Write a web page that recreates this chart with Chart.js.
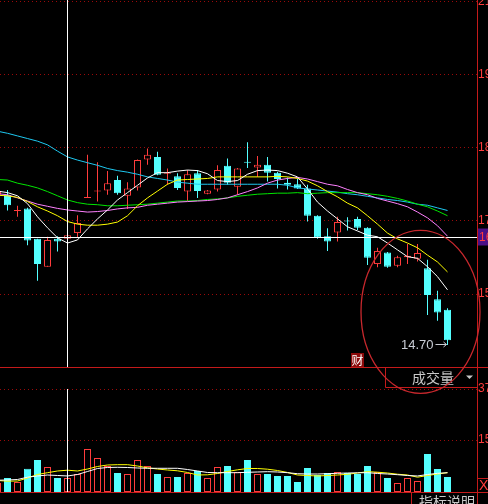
<!DOCTYPE html>
<html>
<head>
<meta charset="utf-8">
<script src="https://cdn.jsdelivr.net/npm/chart.js@4.4.1/dist/chart.umd.min.js"></script>
<style>
  html, body { margin: 0; padding: 0; background: #000; overflow: hidden; }
  #wrap { width: 540px; height: 504px; }
</style>
</head>
<body>
<div id="wrap"><canvas id="kline" width="540" height="504"></canvas></div>
<script>
// trading days, the first one is cut by the left edge
const days = [-1,0,1,2,3,4,5,6,7,8,9,10,11,12,13,14,15,16,17,18,19,20,21,22,23,24,25,26,27,28,29,30,31,32,33,34,35,36,37,38,39,40,41,42,43,44];

const open  = [17.56,17.56,17.25,17.30,16.72,16.19,16.72,16.72,16.83,17.50,17.62,17.64,17.84,17.54,17.70,18.23,18.28,17.96,17.91,17.62,17.97,17.58,17.66,18.11,17.71,18.18,18.08,18.13,17.98,17.79,17.76,17.68,17.16,16.77,16.84,17.06,17.10,16.93,16.24,16.46,16.21,16.37,16.34,16.16,15.57,15.37];
const high  = [17.66,17.65,17.35,17.31,16.72,16.76,16.77,16.81,17.17,18.32,18.18,18.01,17.92,17.80,18.23,18.44,18.38,18.06,17.97,18.03,18.03,17.65,18.12,18.25,18.07,18.56,18.30,18.28,18.00,17.89,17.87,17.75,17.17,16.92,17.14,17.13,17.14,16.94,16.55,16.47,16.40,16.62,16.62,16.32,15.73,15.40];
const low   = [17.53,17.26,17.14,16.60,15.92,16.19,16.48,16.70,16.75,17.50,17.43,17.56,17.56,17.29,17.64,18.13,17.93,17.75,17.65,17.44,17.50,17.57,17.62,17.75,17.56,18.07,17.90,17.81,17.68,17.66,17.67,17.05,16.72,16.49,16.67,16.88,16.89,16.22,16.18,16.17,16.18,16.24,16.29,15.27,15.16,14.70];
const close = [17.63,17.36,17.27,16.69,16.24,16.70,16.67,16.79,17.02,17.51,17.63,17.78,17.59,17.68,18.22,18.32,17.94,17.97,17.69,17.95,17.63,17.64,18.03,17.79,18.06,18.17,18.13,17.98,17.86,17.75,17.68,17.16,16.75,16.67,17.04,17.05,16.93,16.36,16.49,16.19,16.37,16.40,16.45,15.65,15.32,14.79];

// moving averages as drawn on the price panel
const ma5  = [17.63,17.60,17.54,17.39,17.14,16.93,16.74,16.64,16.70,16.91,17.10,17.27,17.46,17.60,17.74,17.88,17.98,17.98,18.01,18.03,18.02,17.96,17.83,17.81,17.83,17.95,18.02,18.03,18.02,17.97,17.90,17.67,17.42,17.25,17.10,16.95,16.87,16.79,16.76,16.64,16.51,16.38,16.35,16.19,16.00,15.75];
const ma10 = [17.55,17.54,17.51,17.43,17.33,17.25,17.16,17.05,17.00,16.98,16.98,17.00,17.04,17.16,17.35,17.50,17.63,17.76,17.84,17.85,17.86,17.87,17.90,17.90,17.90,17.90,17.90,17.90,17.91,17.90,17.87,17.82,17.73,17.62,17.52,17.40,17.31,17.16,17.00,16.83,16.72,16.64,16.55,16.41,16.28,16.09];
const ma20 = [17.58,17.56,17.50,17.44,17.38,17.34,17.30,17.27,17.25,17.23,17.24,17.26,17.29,17.31,17.32,17.36,17.38,17.40,17.42,17.43,17.44,17.45,17.47,17.50,17.56,17.62,17.69,17.78,17.84,17.87,17.89,17.86,17.81,17.76,17.73,17.66,17.60,17.56,17.49,17.44,17.39,17.33,17.23,17.12,16.97,16.77];
const ma30 = [17.85,17.84,17.78,17.74,17.69,17.62,17.54,17.46,17.41,17.38,17.37,17.35,17.35,17.36,17.37,17.38,17.40,17.42,17.44,17.44,17.45,17.47,17.48,17.50,17.53,17.55,17.57,17.58,17.59,17.59,17.60,17.58,17.59,17.60,17.60,17.60,17.60,17.58,17.56,17.53,17.49,17.44,17.38,17.33,17.25,17.16];
const ma60 = [18.77,18.73,18.68,18.63,18.58,18.51,18.39,18.28,18.22,18.17,18.12,18.06,18.02,17.99,17.95,17.90,17.87,17.84,17.80,17.78,17.76,17.76,17.76,17.76,17.76,17.76,17.76,17.76,17.76,17.74,17.69,17.67,17.65,17.63,17.61,17.58,17.56,17.53,17.50,17.47,17.45,17.42,17.38,17.36,17.31,17.26];

// volume (万手) and its two averages
const volume = [2.68,4.04,2.88,6.72,9.23,7.21,4.04,4.04,5.19,12.40,9.81,7.50,5.48,5.19,9.23,7.50,5.19,4.33,4.33,5.48,6.06,4.04,7.21,7.50,5.77,9.23,5.19,5.19,4.62,4.62,2.88,6.92,4.90,5.48,5.77,5.48,5.19,7.50,5.77,4.04,2.60,4.04,3.17,10.96,6.63,4.33];
const vol5  = [3.40,3.46,3.61,4.27,4.62,4.90,4.76,4.62,5.05,5.91,6.78,7.07,7.13,7.07,6.92,6.84,6.84,6.84,6.84,6.49,6.06,5.63,5.57,5.57,5.57,5.68,5.77,5.86,5.77,5.57,5.28,5.19,5.19,5.28,5.39,5.48,5.54,5.57,5.34,5.19,4.99,4.76,4.62,5.05,5.39,5.57];
const vol10 = [3.32,3.12,3.17,4.04,5.05,5.57,6.06,6.29,6.06,6.63,7.36,7.79,7.88,7.88,7.50,6.98,6.63,6.35,6.12,5.63,4.90,4.96,5.34,5.91,6.40,6.78,6.78,6.58,6.20,5.63,4.90,4.76,4.62,4.76,4.90,5.11,5.48,5.86,5.71,5.48,5.13,4.90,4.27,4.76,5.19,5.57];

// axis ticks
const priceGrid = [15.67, 17.06, 18.45, 19.84, 21.23];
const priceGridLabels = ['15.67', '17.06', '18.45', '19.84', '21.23'];
const volGrid = [15.0, 29.7];
const volGridLabels = ['15', '37'];

// cursor and markers
const crossDay = 6, crossPrice = 16.75, crossLabel = '16.75';
const lowDay = 44, lowPrice = 14.70, lowLabel = '14.70';

const RED = '#ff3c3c', CYAN = '#54ffff', GRID = '#9a0a0a', FRAME = '#c41a1a';

const isUp = days.map((d, i) => close[i] >= open[i]);
const candleColor = isUp.map(u => u ? RED : CYAN);
const fillColor = isUp.map(u => u ? '#000' : CYAN);

const xy = arr => arr.map((v, i) => ({ x: days[i], y: v }));

const lineDs = (data, color, axis) => ({
  type: 'line', data: xy(data), yAxisID: axis, borderColor: color, borderWidth: 1,
  pointRadius: 0, tension: 0, fill: false, order: 0,
});

const fitAxis = scale => { scale.width = 63; scale.paddingTop = 0; scale.paddingBottom = 0; };

const overlay = {
  id: 'overlay',
  beforeDraw(chart) {
    const ctx = chart.ctx;
    ctx.save();
    ctx.fillStyle = '#000';
    ctx.fillRect(0, 0, chart.width, chart.height);
    ctx.restore();
  },
  afterDraw(chart) {
    const ctx = chart.ctx;
    const xs = chart.scales.x, ys = chart.scales.y, vs = chart.scales.yv;
    const right = Math.round(chart.chartArea.right);
    const top2 = Math.round(vs.top), bot2 = Math.round(vs.bottom);
    const W = chart.width;
    ctx.save();
    ctx.setLineDash([]);
    ctx.globalAlpha = 1;

    // frame lines
    ctx.strokeStyle = FRAME;
    ctx.lineWidth = 1;
    ctx.beginPath();
    ctx.moveTo(0, top2 - 0.5); ctx.lineTo(W, top2 - 0.5);
    ctx.moveTo(0, bot2 + 0.5); ctx.lineTo(W, bot2 + 0.5);
    ctx.moveTo(right + 0.5, 0); ctx.lineTo(right + 0.5, chart.height);
    ctx.stroke();

    // volume header box
    const hb = top2 + 19.5;
    ctx.beginPath();
    ctx.moveTo(385.5, top2); ctx.lineTo(385.5, hb); ctx.lineTo(right, hb);
    ctx.stroke();
    ctx.fillStyle = '#c8c8c8';
    ctx.font = '14px "Noto Sans CJK SC", sans-serif';
    ctx.textBaseline = 'middle';
    ctx.textAlign = 'left';
    ctx.fillText('成交量', 412, top2 + 10);
    ctx.beginPath();
    ctx.moveTo(466, top2 + 7.5); ctx.lineTo(473, top2 + 7.5); ctx.lineTo(469.5, top2 + 11);
    ctx.closePath(); ctx.fill();

    // bottom tab
    ctx.beginPath();
    ctx.moveTo(411.5, bot2); ctx.lineTo(411.5, chart.height);
    ctx.stroke();
    ctx.textBaseline = 'top';
    ctx.fillText('指标说明', 419, bot2 + 3);

    // X box
    ctx.strokeRect(right + 0.5, bot2 - 13.5, 14, 14);
    ctx.fillStyle = RED;
    ctx.font = '14px "Liberation Sans", Arial, sans-serif';
    ctx.textBaseline = 'middle';
    ctx.fillText('X', right + 2, bot2 - 6);

    // crosshair
    const cx = Math.round(xs.getPixelForValue(crossDay)) - 0.5;
    const cy = Math.floor(ys.getPixelForValue(crossPrice)) + 0.5;
    ctx.strokeStyle = '#ffffff';
    ctx.beginPath();
    ctx.moveTo(cx, 0); ctx.lineTo(cx, top2 - 1);
    ctx.moveTo(cx, top2 + 21); ctx.lineTo(cx, bot2);
    ctx.moveTo(0, cy); ctx.lineTo(right, cy);
    ctx.stroke();
    ctx.fillStyle = '#4a0f86';
    ctx.fillRect(right + 1, cy - 9, W - right, 17);
    ctx.fillStyle = RED;
    ctx.font = '12px "Liberation Sans", Arial, sans-serif';
    ctx.fillText(crossLabel, right + 2, cy);

    // lowest price marker
    const lx = xs.getPixelForValue(lowDay);
    const ly = Math.round(ys.getPixelForValue(lowPrice)) - 0.5;
    ctx.fillStyle = '#c8ccd4';
    ctx.strokeStyle = '#c8ccd4';
    ctx.textAlign = 'right';
    ctx.font = '13px "Liberation Sans", Arial, sans-serif';
    ctx.fillText(lowLabel, lx - 14, ly + 1);
    ctx.beginPath();
    ctx.moveTo(lx - 12, ly); ctx.lineTo(lx - 1, ly);
    ctx.moveTo(lx - 4, ly - 2.5); ctx.lineTo(lx - 1, ly); ctx.lineTo(lx - 4, ly + 2.5);
    ctx.stroke();

    // 财 badge
    ctx.fillStyle = '#8c0a0a';
    ctx.fillRect(351, top2 - 15, 13, 14);
    ctx.fillStyle = '#ffffff';
    ctx.textAlign = 'center';
    ctx.font = '12px "Noto Sans CJK SC", sans-serif';
    ctx.fillText('财', 357.5, top2 - 8);

    // hand-drawn ring
    ctx.strokeStyle = '#c8282d';
    ctx.lineWidth = 1.3;
    ctx.beginPath();
    ctx.ellipse(xs.getPixelForValue(41.3), ys.getPixelForValue(15.33), 59.5, 81.5, 0, 0, Math.PI * 2);
    ctx.stroke();

    ctx.restore();
  }
};

const tickFont = { family: '"Liberation Sans", Arial, sans-serif', size: 12 };

new Chart(document.getElementById('kline'), {
  data: {
    datasets: [
      lineDs(ma5, '#ffffff', 'y'),
      lineDs(ma10, '#ffff00', 'y'),
      lineDs(ma20, '#ff80ff', 'y'),
      lineDs(ma30, '#00e600', 'y'),
      lineDs(ma60, '#1ec8f0', 'y'),
      {
        type: 'bar', yAxisID: 'y', order: 1, grouped: false,
        data: days.map((d, i) => ({ x: d, y: [open[i], close[i]] })),
        backgroundColor: fillColor, borderColor: candleColor, borderWidth: 1,
        borderSkipped: false, barThickness: 7, minBarLength: 1, inflateAmount: 0,
      },
      {
        type: 'bar', yAxisID: 'y', order: 2, grouped: false,
        data: days.map((d, i) => ({ x: d, y: [low[i], high[i]] })),
        backgroundColor: candleColor, borderWidth: 0, barThickness: 1, inflateAmount: 0,
      },
      {
        type: 'bar', yAxisID: 'yv', order: 1, grouped: false,
        data: days.map((d, i) => ({ x: d, y: volume[i] })),
        backgroundColor: fillColor, borderColor: candleColor, borderWidth: 1,
        borderSkipped: false, barThickness: 7, inflateAmount: 0,
      },
      lineDs(vol5, '#ffffff', 'yv'),
      lineDs(vol10, '#ffff00', 'yv'),
    ]
  },
  options: {
    responsive: false,
    devicePixelRatio: 1,
    animation: false,
    layout: { padding: { left: 0, top: 0, right: 0, bottom: 12 } },
    plugins: { legend: { display: false }, tooltip: { enabled: false } },
    scales: {
      x: { type: 'linear', min: -0.75, max: 46.95, offset: false, display: false },
      y: {
        type: 'linear', position: 'right', stack: 'panes', stackWeight: 368,
        min: 14.261, max: 21.268,
        afterBuildTicks: s => { s.ticks = priceGrid.map(v => ({ value: v })); },
        afterFit: fitAxis,
        ticks: {
          autoSkip: false, padding: 1, color: RED, font: tickFont,
          callback: (v, i) => priceGridLabels[i],
        },
        grid: { color: GRID, drawTicks: false },
        border: { display: false, dash: [1, 3] },
      },
      yv: {
        type: 'linear', position: 'right', stack: 'panes', stackWeight: 124,
        min: 0, max: 35.77,
        afterBuildTicks: s => { s.ticks = volGrid.map(v => ({ value: v })); },
        afterFit: fitAxis,
        ticks: {
          autoSkip: false, padding: 1, color: RED, font: tickFont,
          callback: (v, i) => volGridLabels[i],
        },
        grid: { color: GRID, drawTicks: false },
        border: { display: false, dash: [1, 3] },
      }
    }
  },
  plugins: [overlay]
});
</script>
</body>
</html>
